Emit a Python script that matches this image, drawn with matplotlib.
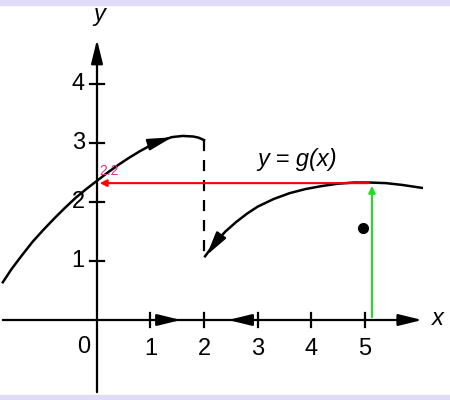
import matplotlib
matplotlib.use("Agg")
import matplotlib.pyplot as plt
from matplotlib.patches import Rectangle

plt.rcParams['font.family'] = ['Liberation Sans', 'DejaVu Sans']

left_x = [-1.76, -1.6, -1.4, -1.2, -1.0, -0.8, -0.6, -0.4, -0.2, 0.0, 0.2, 0.4, 0.6, 0.8, 1.0, 1.2, 1.4, 1.6, 1.8, 1.9, 2.0]
left_y = [0.64, 0.86, 1.1, 1.33, 1.53, 1.72, 1.9, 2.07, 2.22, 2.36, 2.5, 2.63, 2.75, 2.86, 2.96, 3.04, 3.1, 3.12, 3.11, 3.09, 3.05]
right_x = [2.02, 2.2, 2.4, 2.6, 2.8, 3.0, 3.3, 3.6, 3.9, 4.2, 4.5, 4.8, 5.1, 5.4, 5.7, 6.07]
right_y = [1.08, 1.3, 1.5, 1.66, 1.8, 1.92, 2.05, 2.15, 2.22, 2.27, 2.31, 2.33, 2.33, 2.32, 2.29, 2.24]
dot_x, dot_y = 4.97, 1.56
hx, hy = 5.14, 2.32
xticks = [1, 2, 3, 4, 5]
yticks = [1, 2, 3, 4]

fig = plt.figure(figsize=(4.5, 4), dpi=100)
ax = fig.add_axes([0, 0, 1, 1])
ax.set_xlim(-1.813, 6.598)
ax.set_ylim(-1.356, 5.424)
ax.axis('off')
fig.patches.append(Rectangle((0, 0.9875), 1, 0.0125, transform=fig.transFigure, color='#e0dcf8', zorder=0))
fig.patches.append(Rectangle((0, 0), 1, 0.0125, transform=fig.transFigure, color='#e0dcf8', zorder=0))

ap = dict(arrowstyle='-|>,head_length=0.9,head_width=0.22', color='black', lw=1.6, mutation_scale=16)
fs = 17
ax.annotate('', xy=(6.13, 0), xytext=(-1.813, 0), arrowprops=ap)
ax.annotate('', xy=(0, 4.8), xytext=(0, -1.27), arrowprops=ap)
ax.text(6.38, 0.02, 'x', style='italic', fontsize=fs, va='center', ha='center')
ax.text(0.05, 5.18, 'y', style='italic', fontsize=fs, va='center', ha='center')
for t in xticks:
    ax.plot([t, t], [-0.12, 0.12], color='black', lw=1.6)
    ax.text(t, -0.5, str(t), fontsize=fs, ha='center', va='center')
for t in yticks:
    ax.plot([-0.13, 0.13], [t, t], color='black', lw=1.6)
    ax.text(-0.35, t, str(t), fontsize=fs, ha='center', va='center')
ax.text(-0.25, -0.45, '0', fontsize=fs, ha='center', va='center')
ax.annotate('', xy=(1.62, 0), xytext=(1.2, 0), arrowprops=ap)
ax.annotate('', xy=(2.4, 0), xytext=(2.8, 0), arrowprops=ap)

ax.plot(left_x, left_y, color='black', lw=1.8)
ax.annotate('', xy=(1.45, 3.11), xytext=(1.2, 3.04), arrowprops=ap)
ax.plot([2.0, 2.0], [3.05, 1.05], color='black', lw=1.6, ls=(0, (5, 4)))
ax.plot(right_x, right_y, color='black', lw=1.8)
ax.annotate('', xy=(2.02, 1.06), xytext=(2.25, 1.35), arrowprops=ap)
ax.plot([dot_x], [dot_y], 'o', color='black', ms=7)

ax.annotate('', xy=(0.0, hy), xytext=(hx, hy),
            arrowprops=dict(arrowstyle='-|>', color='red', lw=1.5, mutation_scale=10))
ax.annotate('', xy=(hx, hy), xytext=(hx, 0),
            arrowprops=dict(arrowstyle='-|>', color='#22dd22', lw=1.5, mutation_scale=10))
ax.text(0.05, 2.52, '2.2', color='#e0308a', fontsize=10, va='center')
ax.text(3.75, 2.72, 'y = g(x)', fontsize=fs, ha='center', va='center', style='italic')

fig.savefig('out.png', dpi=100)
